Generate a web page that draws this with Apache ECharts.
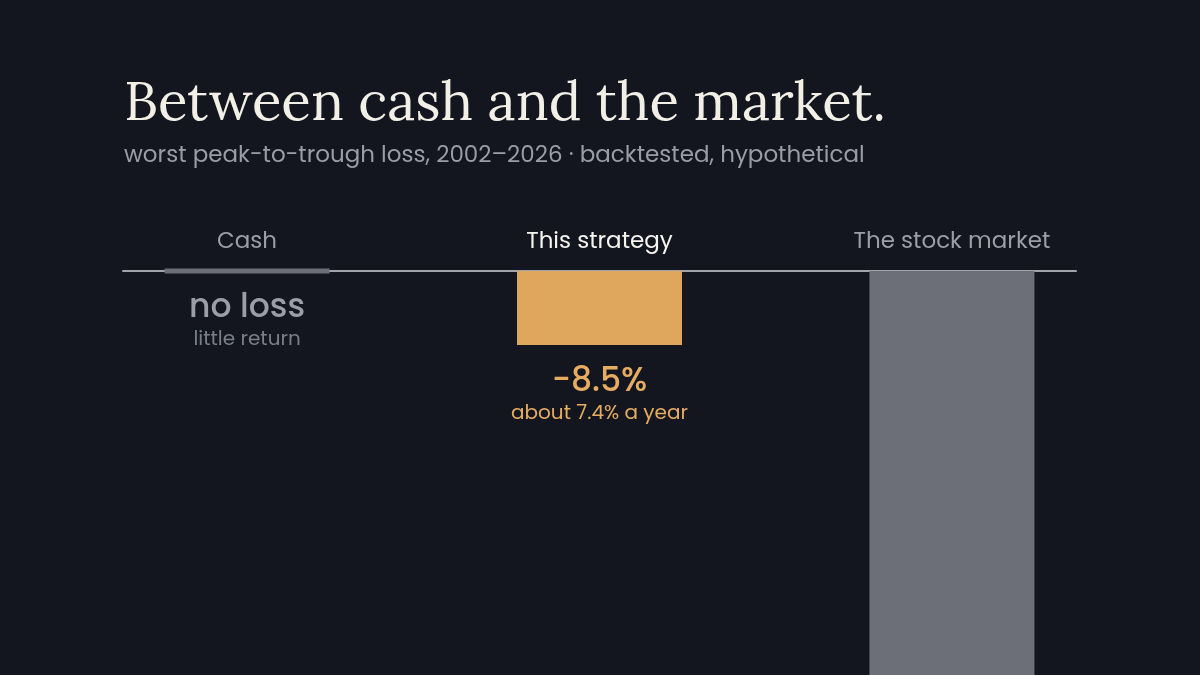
<!DOCTYPE html>
<html>
<head>
<meta charset="utf-8">
<script src="https://cdn.jsdelivr.net/npm/echarts@6/dist/echarts.min.js"></script>
<style>
html,body{margin:0;padding:0;background:#13161e;}
#c{width:1200px;height:675px;}
</style>
</head>
<body>
<div id="c"></div>
<script>
const categories = ['Cash', 'This strategy', 'The stock market'];
const drawdowns = [0, -8.5, -55];
const valueLabels = ['no loss', '-8.5%', ''];
const noteLabels = ['little return', 'about 7.4% a year', ''];

const SANS = 'Poppins, "Noto Sans", Inter, sans-serif';
const barColors = ['#6c6f78', '#dea75d', '#6c6f78'];
const nameColors = ['#9c9ea7', '#f5f4f0', '#9c9ea7'];
const valColors = ['#9c9ea7', '#e6ac62', '#9c9ea7'];
const noteColors = ['#7c7f88', '#e6ac62', '#7c7f88'];

const chart = echarts.init(document.getElementById('c'));
chart.setOption({
  backgroundColor: '#13161e',
  animation: false,
  title: [{
    text: 'Between cash and the market.',
    left: 119, top: 72,
    textStyle: { fontFamily: 'Lora, "Liberation Serif", serif', fontSize: 54.5, fontWeight: 'normal', color: '#f2efe6' }
  }, {
    text: 'worst peak-to-trough loss, 2002\u20132026 \u00b7 backtested, hypothetical',
    left: 119, top: 140,
    textStyle: { fontFamily: SANS, fontSize: 23, fontWeight: 'normal', color: '#9a9ca6' }
  }],
  grid: { left: 123, right: 124, top: 271, height: 522.4, outerBoundsMode: 'none', containLabel: false },
  xAxis: {
    type: 'value', position: 'top', min: -0.352, max: 2.352,
    axisLine: { show: true, onZero: false, lineStyle: { color: '#a2a4ac', width: 2 } },
    axisTick: { show: false }, axisLabel: { show: false }, splitLine: { show: false }
  },
  yAxis: {
    type: 'value', min: -60, max: 0,
    axisLine: { show: false }, axisTick: { show: false }, axisLabel: { show: false }, splitLine: { show: false }
  },
  series: [{
    type: 'bar',
    barWidth: 165,
    z: 1,
    data: drawdowns.map((v, i) => ({
      value: [i, v],
      itemStyle: v === 0
        ? { color: barColors[i], borderColor: barColors[i], borderWidth: 5, borderJoin: 'miter', borderCap: 'butt' }
        : { color: barColors[i] }
    }))
  }, {
    type: 'scatter',
    symbolSize: 0,
    z: 5,
    itemStyle: { opacity: 1 },
    data: categories.map((c, i) => ({
      value: [i, 0],
      label: {
        show: true, position: 'top', distance: 17,
        formatter: c,
        fontFamily: SANS, fontSize: 23, color: nameColors[i]
      }
    }))
  }, {
    type: 'scatter',
    symbolSize: 0,
    z: 5,
    itemStyle: { opacity: 1 },
    data: drawdowns.map((v, i) => ({
      value: [i, v],
      label: {
        show: valueLabels[i] !== '', position: 'bottom', distance: 20,
        formatter: '{a|' + valueLabels[i] + '}\n{b|' + noteLabels[i] + '}',
        rich: {
          a: { fontFamily: SANS, fontSize: 33, fontWeight: 500, color: valColors[i], lineHeight: 36, align: 'center' },
          b: { fontFamily: SANS, fontSize: 20, color: noteColors[i], lineHeight: 26, align: 'center' }
        }
      }
    }))
  }]
});
</script>
</body>
</html>
